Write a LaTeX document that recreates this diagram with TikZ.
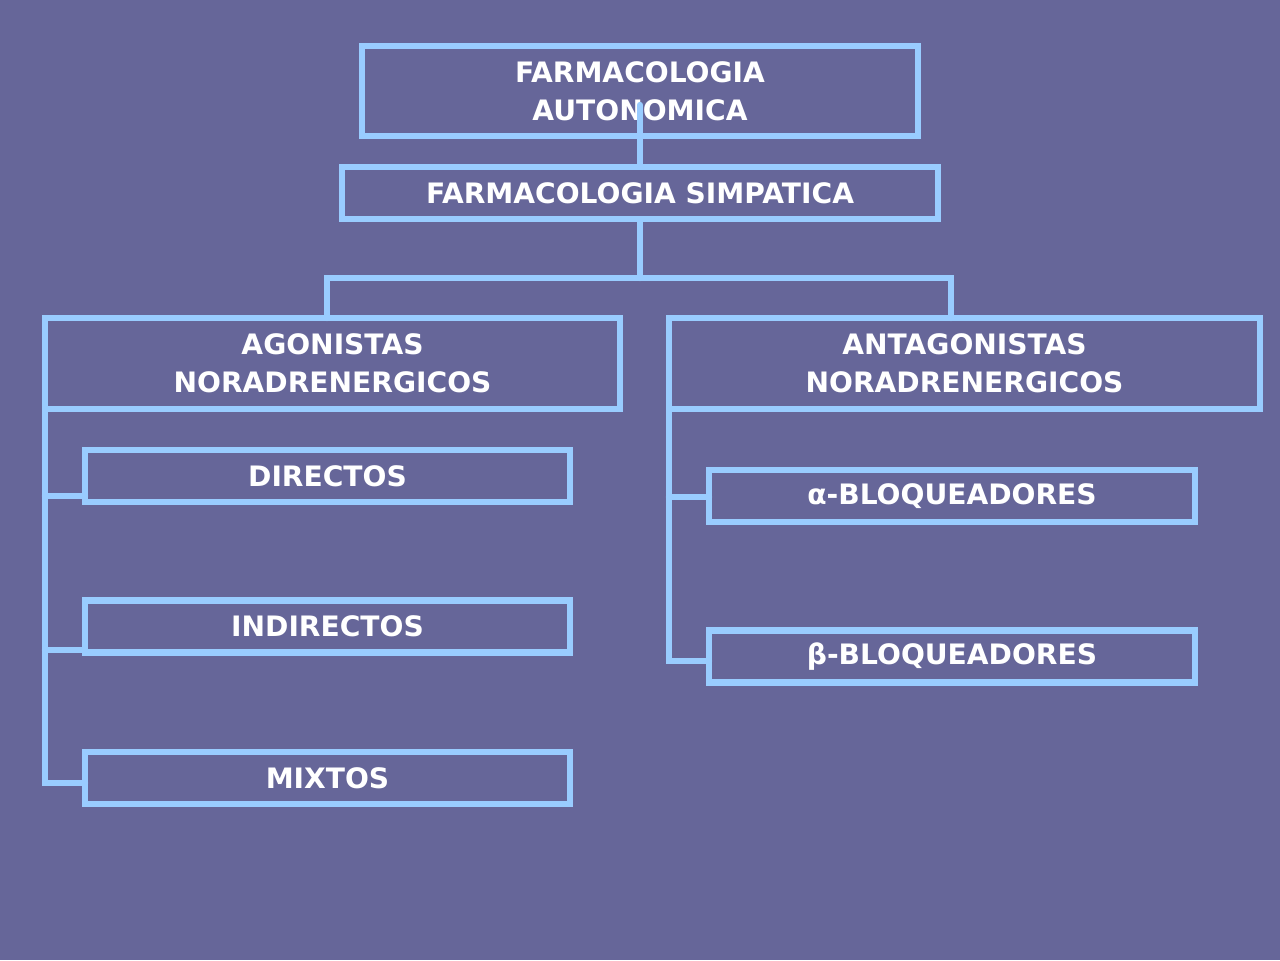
\documentclass[tikz,border=0pt]{standalone}
\usepackage{fontspec}
\setmainfont{DejaVu Sans}
\usetikzlibrary{positioning}
\definecolor{bgblue}{HTML}{666699}
\definecolor{lineblue}{HTML}{99CCFF}
\tikzset{
  box/.style={draw=lineblue, line width=4.5pt, text=white, align=center,
    font=\fontsize{20}{27}\selectfont\bfseries, inner sep=0pt},
  link/.style={draw=lineblue, line width=4.5pt, line cap=round}
}
\begin{document}
\begin{tikzpicture}[x=0.025cm, y=-0.025cm]
    \fill[bgblue] (0,0) rectangle (1280,960);
    \useasboundingbox (0,0) rectangle (1280,960);

    % Top levels
    \node[box, minimum width=13.9cm, minimum height=2.25cm] (auto) at (640,91) {FARMACOLOGIA\\AUTONOMICA};
    \node[box, minimum width=14.9cm, minimum height=1.3cm] (simp) at (640,193) {FARMACOLOGIA SIMPATICA};

    % Second level
    \node[box, minimum width=14.375cm, minimum height=2.275cm] (agon) at (332.5,363.5) {AGONISTAS\\NORADRENERGICOS};
    \node[box, minimum width=14.775cm, minimum height=2.275cm] (antag) at (964.5,363.5) {ANTAGONISTAS\\NORADRENERGICOS};

    % Agonists
    \node[box, minimum width=12.125cm, minimum height=1.3cm] (direct) at (327.5,476) {DIRECTOS};
    \node[box, minimum width=12.125cm, minimum height=1.3cm] (indirect) at (327.5,626.5) {INDIRECTOS};
    \node[box, minimum width=12.125cm, minimum height=1.3cm] (mixed) at (327.5,778) {MIXTOS};

    % Antagonists
    \node[box, minimum width=12.15cm, minimum height=1.3cm] (alpha) at (952,496) {α-BLOQUEADORES};
    \node[box, minimum width=12.15cm, minimum height=1.3cm] (beta) at (952,656.5) {β-BLOQUEADORES};

    % Connectors
    \coordinate (autoin) at (640,105);
    \coordinate (split) at (640,278);
    \draw[link] (autoin) -- (simp.north);
    \draw[link] (simp.south) -- (split);
    \draw[link] (split) -| (327,318);
    \draw[link] (split) -| (951,318);

    \coordinate (ltop) at (45,409);
    \draw[link] (ltop) -- (45,783) -- (85,783);
    \draw[link] (45,496) -- (85,496);
    \draw[link] (45,650) -- (85,650);

    \coordinate (rtop) at (669,409);
    \draw[link] (rtop) -- (669,661) -- (709,661);
    \draw[link] (669,497) -- (709,497);
\end{tikzpicture}
\end{document}
